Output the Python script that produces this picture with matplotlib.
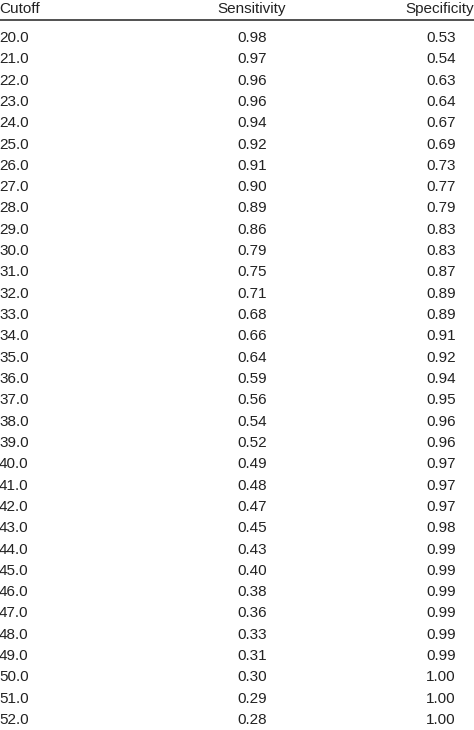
import matplotlib
matplotlib.use("Agg")
import matplotlib.pyplot as plt

headers = ["Cutoff", "Sensitivity", "Specificity"]
cutoffs = [20.0 + i for i in range(33)]
sensitivity = [0.98,0.97,0.96,0.96,0.94,0.92,0.91,0.90,0.89,0.86,0.79,0.75,0.71,0.68,0.66,0.64,0.59,0.56,0.54,0.52,0.49,0.48,0.47,0.45,0.43,0.40,0.38,0.36,0.33,0.31,0.30,0.29,0.28]
specificity = [0.53,0.54,0.63,0.64,0.67,0.69,0.73,0.77,0.79,0.83,0.83,0.87,0.89,0.89,0.91,0.92,0.94,0.95,0.96,0.96,0.97,0.97,0.97,0.98,0.99,0.99,0.99,0.99,0.99,0.99,1.00,1.00,1.00]

fig = plt.figure(figsize=(4.74, 7.30), dpi=100)
ax = fig.add_axes([0, 0, 1, 1])
ax.set_xlim(0, 474)
ax.set_ylim(730, 0)
ax.axis("off")
fam = ["Liberation Sans", "DejaVu Sans"]
fs = 11
col = "#222222"
ax.text(-1, 9, headers[0], ha="left", va="center", fontsize=fs, family=fam, color=col)
ax.text(252, 9, headers[1], ha="center", va="center", fontsize=fs, family=fam, color=col)
ax.text(474, 9, headers[2], ha="right", va="center", fontsize=fs, family=fam, color=col)
ax.plot([0, 474], [20, 20], color="#333333", lw=1.2)
step = (720 - 38) / 32
for i, (c, s, p) in enumerate(zip(cutoffs, sensitivity, specificity)):
    y = 38 + i * step
    ax.text(-1, y, f"{c:.1f}", ha="left", va="center", fontsize=fs, family=fam, color=col)
    ax.text(252, y, f"{s:.2f}", ha="center", va="center", fontsize=fs, family=fam, color=col)
    ax.text(441, y, f"{p:.2f}", ha="center", va="center", fontsize=fs, family=fam, color=col)
fig.savefig("out.png", dpi=100)
